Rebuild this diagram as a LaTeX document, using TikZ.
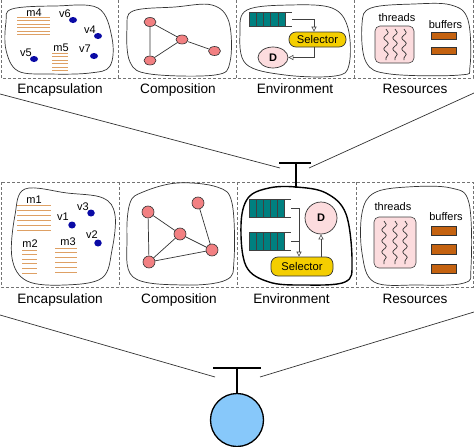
\documentclass[tikz,border=0pt]{standalone}
\usepackage{fontspec}
\setmainfont{Liberation Sans}
\usetikzlibrary{arrows.meta,decorations.pathmorphing,shapes.geometric}
\definecolor{navydot}{RGB}{10,10,165}
\definecolor{salmonnode}{RGB}{242,128,130}
\definecolor{qteal}{RGB}{0,128,128}
\definecolor{selyellow}{RGB}{244,206,0}
\definecolor{lpink}{RGB}{252,220,222}
\definecolor{bufbrown}{RGB}{196,98,16}
\definecolor{coreblue}{RGB}{135,200,250}
\definecolor{mtan}{RGB}{222,160,100}
\newcommand\myqueue[4]{%
  \filldraw[fill=qteal,draw=black!75,line width=0.6pt] (#1,#2) rectangle (#3,#4);
  \foreach \k in {1,2,3,4}{\draw[black!75,line width=0.6pt] ({#1+\k*(#3-#1)/5},#2) -- ({#1+\k*(#3-#1)/5},#4);}
  \draw[black!75,line width=0.6pt] (#3,#2) -- ++(7,0) (#3,#4) -- ++(7,0);
}
\newcommand\mlines[5]{% x0 x1 y0 step count
  \foreach \k in {0,...,#5}{\draw[mline] (#1,{#3+\k*#4}) -- (#2,{#3+\k*#4});}
}
\begin{document}
\begin{tikzpicture}[x=1pt,y=-1pt,
  panel/.style={draw=black!55,dash pattern=on 3pt off 2pt,line width=0.7pt},
  blob/.style={draw=black!80,line width=0.7pt},
  thickblob/.style={draw=black,line width=1.4pt},
  mline/.style={draw=mtan,line width=0.8pt},
  small/.style={font=\fontsize{11}{13}\selectfont,inner sep=0pt},
  title/.style={font=\fontsize{13.6}{15}\selectfont,inner sep=0pt,anchor=base},
  dotnode/.style={ellipse,fill=navydot,inner sep=0pt,minimum width=8pt,minimum height=6pt},
  cnode/.style={ellipse,draw=black!80,fill=salmonnode,line width=0.6pt,inner sep=0pt},
  cedge/.style={draw=black!80,line width=0.7pt},
  selbox/.style={draw=black!80,fill=selyellow,rounded corners=7pt,line width=0.7pt,inner sep=0pt,font=\fontsize{11.2}{13}\selectfont},
  dnode/.style={ellipse,draw=black!80,fill=lpink,line width=0.7pt,inner sep=0pt,font=\fontsize{11}{13}\selectfont\bfseries},
  conn/.style={draw=black!75,line width=0.6pt},
  arr/.style={conn,-{Triangle[open,length=5pt,width=5pt]}},
  tbox/.style={draw=black!75,fill=lpink,rounded corners=5pt,line width=0.6pt},
  wave/.style={draw=black!80,line width=0.7pt,decorate,decoration={snake,amplitude=2.2pt,segment length=11pt}},
  buf/.style={draw=black!80,fill=bufbrown,line width=0.6pt},
  link/.style={draw=black!80,line width=0.7pt},
  tbar/.style={draw=black,line width=1.2pt}
]
\useasboundingbox (0,0) rectangle (474,447);
\clip (0,0) rectangle (474,447);

% ---------- dashed panels ----------
\draw[panel] (1,-5) rectangle (473,78);
\foreach \x in {118,236,354} \draw[panel] (\x,-5) -- (\x,78);
\draw[panel] (1,182) rectangle (473,287);
\foreach \x in {119,237,356} \draw[panel] (\x,182) -- (\x,287);

% ---------- top row: Encapsulation ----------
\draw[blob] plot[smooth cycle,tension=0.6] coordinates {(12,9)(55,6)(98,8)(112,38)(110,66)(90,73)(50,74)(18,71)(6,50)(6,22)};
\mlines{17}{50}{17}{3.5}{5}
\mlines{52}{68}{53}{3.5}{5}
\node[small] (m4) at (34,12.5) {m4};
\node[small] (m5) at (61,47.5) {m5};
\node[small] (v6) at (65,13.5) {v6};
\node[small] (v4) at (90,30) {v4};
\node[small] (v5) at (26,53) {v5};
\node[small] (v7) at (85,49) {v7};
\node[dotnode] (d6) at (73,20) {};
\node[dotnode] (d4) at (98,36) {};
\node[dotnode] (d5) at (34,59) {};
\node[dotnode] (d7) at (94,56) {};

% ---------- top row: Composition ----------
\draw[blob] plot[smooth cycle,tension=0.6] coordinates {(133,11)(175,7)(212,5)(229,22)(230,62)(215,75)(150,74)(130,62)(127,28)};
\node[cnode,minimum width=12pt,minimum height=9pt] (a1) at (150,22) {};
\node[cnode,minimum width=12pt,minimum height=9pt] (a2) at (182,39.5) {};
\node[cnode,minimum width=12pt,minimum height=9pt] (a3) at (214.5,51) {};
\node[cnode,minimum width=12pt,minimum height=9pt] (a4) at (150,60.5) {};
\draw[cedge] (a1) -- (a4) (a1) -- (a2) (a2) -- (a4) (a2) -- (a3);

% ---------- top row: Environment ----------
\draw[blob] plot[smooth cycle,tension=0.6] coordinates {(247,10)(290,5)(332,8)(348,28)(349,65)(335,76)(285,75)(246,64)(240,32)};
\myqueue{249}{12}{285}{26}
\node[selbox,minimum width=57pt,minimum height=15pt] (sel) at (317.5,39.5) {Selector};
\node[dnode,minimum width=30pt,minimum height=21pt] (D) at (273,57.5) {D};
\coordinate (qe1) at (292,19);
\coordinate (k1) at (314,19);
\draw[arr] (qe1) -- (k1) -- (k1 |- sel.north);
\draw[arr] (k1 |- sel.south) |- (D.east);

% ---------- top row: Resources ----------
\draw[blob] plot[smooth cycle,tension=0.6] coordinates {(371,8)(414,4)(451,5)(468,20)(470,66)(460,75)(390,74)(366,62)(362,24)};
\node[small] (th1) at (397,18) {threads};
\draw[tbox] (375,26) rectangle (414,63);
\foreach \x in {386,395,404} \draw[wave] (\x,29) -- (\x,60);
\node[small] (bf1) at (445.5,25) {buffers};
\draw[buf] (431,32) rectangle (456,39);
\draw[buf] (431,47) rectangle (456,54);

% ---------- top titles ----------
\node[title] (t1) at (60,93) {Encapsulation};
\node[title] (t2) at (178,93) {Composition};
\node[title] (t3) at (295,93) {Environment};
\node[title] (t4) at (415,93) {Resources};

% ---------- middle row: Encapsulation ----------
\draw[blob] plot[smooth cycle,tension=0.6] coordinates {(25,189)(67,193)(103,198)(115,215)(112,250)(102,278)(65,285)(27,281)(12,258)(15,215)};
\mlines{17}{51}{205}{5}{5}
\mlines{22}{37}{250}{4.6}{5}
\mlines{55}{77}{248}{4.8}{5}
\node[small] (m1) at (34,200) {m1};
\node[small] (m2) at (30,244) {m2};
\node[small] (m3) at (68,242) {m3};
\node[small] (v1) at (63,217) {v1};
\node[small] (v3) at (83,207) {v3};
\node[small] (v2) at (92,235) {v2};
\node[dotnode,minimum width=7.5pt,minimum height=7pt] (e1) at (72,225) {};
\node[dotnode,minimum width=7.5pt,minimum height=7pt] (e3) at (91,213) {};
\node[dotnode,minimum width=7.5pt,minimum height=7pt] (e2) at (98,243) {};

% ---------- middle row: Composition ----------
\draw[blob] plot[smooth cycle,tension=0.6] coordinates {(143,192)(177,183)(217,187)(232,203)(234,260)(226,280)(183,285)(133,277)(127,237)(130,203)};
\node[cnode,minimum width=12pt,minimum height=12pt] (b1) at (148,212) {};
\node[cnode,minimum width=12pt,minimum height=12pt] (b2) at (198,203) {};
\node[cnode,minimum width=12pt,minimum height=12pt] (b3) at (180,234) {};
\node[cnode,minimum width=12pt,minimum height=12pt] (b4) at (212,250) {};
\node[cnode,minimum width=12pt,minimum height=12pt] (b5) at (149,262) {};
\draw[cedge] (b1) -- (b5) (b1) -- (b3) (b3) -- (b5) (b3) -- (b4) (b5) -- (b4) (b2) -- (b4);

% ---------- middle row: Environment ----------
\draw[thickblob] plot[smooth cycle,tension=0.6] coordinates {(269,188)(296,187)(326,193)(346,214)(352,262)(345,282)(303,285)(269,282)(246,266)(241,225)(248,198)};
\myqueue{249}{199}{284}{217}
\myqueue{249}{232}{284}{250}
\node[selbox,minimum width=62pt,minimum height=19pt] (sel2) at (302,266.5) {Selector};
\node[dnode,circle,minimum size=32pt] (D2) at (321,218) {D};
\coordinate (qe2) at (291,208);
\coordinate (qe3) at (291,241);
\coordinate (k2) at (299,208);
\coordinate (k3) at (299,241);
\draw[arr] (qe2) -- (k2) -- (k2 |- sel2.north);
\draw[conn] (qe3) -- (k3);
\draw[arr] (D2.south |- sel2.north) -- (D2.south);

% ---------- middle row: Resources ----------
\draw[blob] plot[smooth cycle,tension=0.6] coordinates {(374,193)(407,187)(451,188)(469,203)(471,267)(464,283)(417,285)(374,282)(362,253)(362,213)};
\node[small] (th2) at (393,207) {threads};
\draw[tbox] (374,217) rectangle (416,268);
\foreach \x in {384,395,405} \draw[wave] (\x,221) -- (\x,264);
\node[small] (bf2) at (446,217) {buffers};
\draw[buf] (431,226) rectangle (456,235);
\draw[buf] (431,244) rectangle (456,254);
\draw[buf] (431,264) rectangle (456,273);

% ---------- middle titles ----------
\node[title] (u1) at (60,303) {Encapsulation};
\node[title] (u2) at (179,303) {Composition};
\node[title] (u3) at (291.5,303) {Environment};
\node[title] (u4) at (415,303) {Resources};

% ---------- upper connectors ----------
\coordinate (l1s) at (0,94);
\coordinate (l1e) at (280,168);
\coordinate (r1s) at (474,93);
\coordinate (r1e) at (309,168);
\draw[link] (l1s) -- (l1e);
\draw[link] (r1s) -- (r1e);
\coordinate (tb1l) at (279,163);
\coordinate (tb1r) at (311,163);
\coordinate (tb1m) at (296,163);
\coordinate (envtop) at (296,187.5);
\draw[tbar] (tb1l) -- (tb1r);
\draw[tbar] (tb1m) -- (envtop);

% ---------- lower connectors ----------
\coordinate (l2s) at (0,315);
\coordinate (l2e) at (215,377);
\coordinate (r2s) at (474,312);
\coordinate (r2e) at (260,377);
\draw[link] (l2s) -- (l2e);
\draw[link] (r2s) -- (r2e);
\node[circle,draw=black,fill=coreblue,line width=1.3pt,minimum size=53pt,inner sep=0pt] (core) at (237,420) {};
\coordinate (tb2l) at (213,368);
\coordinate (tb2r) at (261,368);
\coordinate (tb2m) at (237,368);
\draw[tbar] (tb2l) -- (tb2r);
\draw[tbar] (tb2m) -- (core.north);
\end{tikzpicture}
\end{document}
